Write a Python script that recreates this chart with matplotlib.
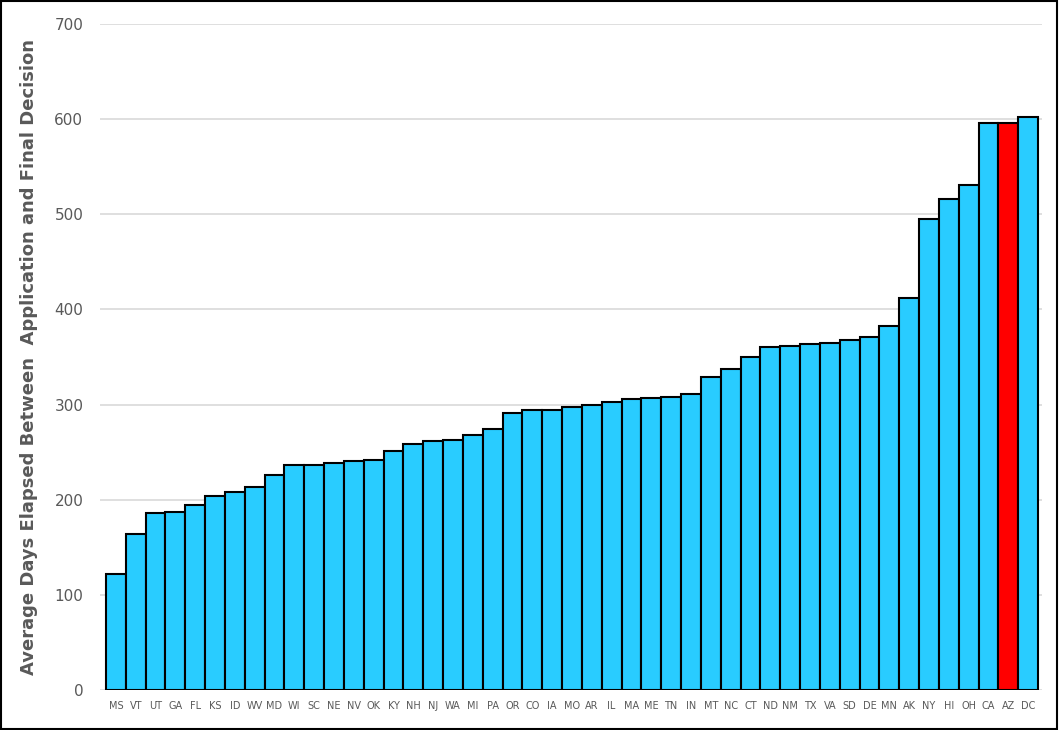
import matplotlib
matplotlib.use("Agg")
import matplotlib.pyplot as plt

states = ["MS","VT","UT","GA","FL","KS","ID","WV","MD","WI","SC","NE","NV","OK","KY","NH","NJ","WA","MI","PA",
          "OR","CO","IA","MO","AR","IL","MA","ME","TN","IN","MT","NC","CT","ND","NM","TX","VA","SD","DE","MN",
          "AK","NY","HI","OH","CA","AZ","DC"]
days = [122,164,186,187,194,204,208,213,226,236,237,239,241,242,251,259,262,263,268,274,
        291,294,294,297,300,303,306,307,308,311,329,337,350,360,362,364,365,368,371,383,
        412,495,516,531,596,596,602]
highlight = "AZ"

fig = plt.figure(figsize=(10.59, 7.30), dpi=100)
ax = fig.add_axes([100/1059, 40/730, 942/1059, 666/730])
colors = ["#ff0000" if s == highlight else "#29ccff" for s in states]
ax.bar(range(len(states)), days, width=1.0, color=colors, edgecolor="black", linewidth=1.5, zorder=3)
ax.set_xlim(-0.8, len(states) - 0.3)
ax.set_ylim(0, 700)
ax.set_yticks(range(0, 701, 100))
ax.yaxis.grid(True, color="#d9d9d9", linewidth=1.2, zorder=0)
ax.set_xticks(range(len(states)))
ax.set_xticklabels(states, fontsize=7, color="#595959")
ax.tick_params(axis="y", labelsize=11, colors="#595959", length=0, pad=12)
ax.tick_params(axis="x", length=0, pad=8)
for sp in ax.spines.values():
    sp.set_visible(False)
ax.set_ylabel("Average Days Elapsed Between  Application and Final Decision", fontsize=13,
              fontweight="bold", color="#595959", labelpad=12)
fig.patches.append(matplotlib.patches.Rectangle((0.001, 0.001), 0.997, 0.997, transform=fig.transFigure,
                                                fill=False, edgecolor="black", linewidth=1.5))
fig.savefig("out.png", dpi=100)
